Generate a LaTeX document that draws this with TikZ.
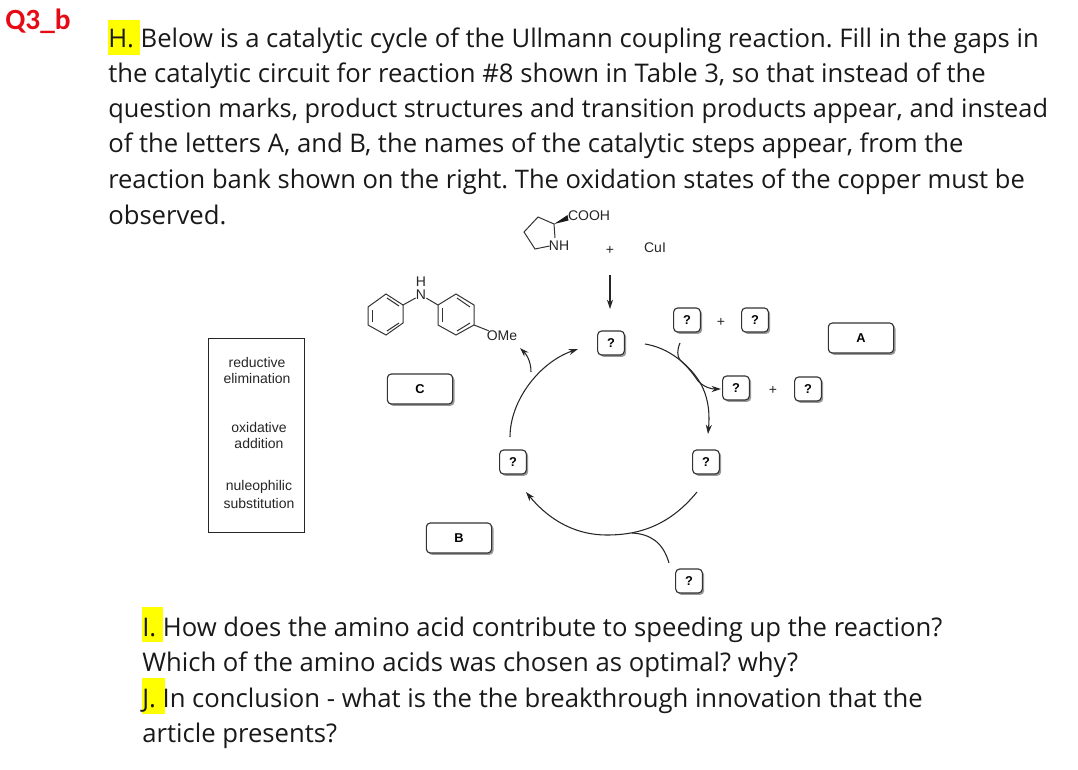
\documentclass[tikz,border=0pt]{standalone}
\usepackage{fontspec}
\setmainfont{Open Sans}
\newfontfamily\chemf{Liberation Sans}
\newfontfamily\headf{Carlito}
\usetikzlibrary{arrows.meta,shadows}
\definecolor{hl}{RGB}{255,255,0}
\definecolor{qred}{RGB}{230,10,20}
\tikzset{
  para/.style={anchor=base west,inner sep=0pt,font=\frenchspacing\fontsize{19.25}{24}\selectfont,text=black!90},
  qbox/.style={draw=black!80,line width=0.85pt,fill=white,rounded corners=3pt,minimum width=20pt,minimum height=18pt,inner sep=0pt,font=\chemf\bfseries\fontsize{9.6}{11}\selectfont,general shadow={fill=black!40,shadow xshift=1.4pt,shadow yshift=-1.4pt}},
  lbox/.style={qbox,minimum width=49pt,minimum height=22.5pt},
  chem/.style={inner sep=0pt,font=\chemf\fontsize{10.5}{12}\selectfont,text=black!85},
  bond/.style={draw=black!80,line width=0.75pt},
  arc/.style={draw=black!85,line width=0.8pt},
  arcarrow/.style={arc,-{Stealth[length=7pt,width=4.6pt]}},
}
\begin{document}
\begin{tikzpicture}[x=0.75pt,y=-0.75pt]
\useasboundingbox (0,0) rectangle (1078,770);
% highlights
\fill[hl] (108,20) rectangle (140,55);
\fill[hl] (142,607) rectangle (163,642);
\fill[hl] (142,678) rectangle (165,714);
% header and paragraphs
\node[anchor=base west,inner sep=0pt,text=qred,font=\headf\bfseries\fontsize{22}{26}\selectfont] (head) at (5,30) {Q3\_b};
\node[para] (l1) at (108,48) {H. Below is a catalytic cycle of the Ullmann coupling reaction. Fill in the gaps in};
\node[para] (l2) at (108,83) {the catalytic circuit for reaction \#8 shown in Table 3, so that instead of the};
\node[para,font=\frenchspacing\fontsize{19.0}{24}\selectfont] (l3) at (108,118) {question marks, product structures and transition products appear, and instead};
\node[para] (l4) at (108,153) {of the letters A, and B, the names of the catalytic steps appear, from the};
\node[para,font=\frenchspacing\fontsize{19.15}{24}\selectfont] (l5) at (108,189) {reaction bank shown on the right. The oxidation states of the copper must be};
\node[para] (l6) at (108,224) {observed.};
\node[para] (m1) at (142,636) {I. How does the amino acid contribute to speeding up the reaction?};
\node[para] (m2) at (142,671) {Which of the amino acids was chosen as optimal? why?};
\node[para] (m3) at (142,707) {J. In conclusion - what is the the breakthrough innovation that the};
\node[para] (m4) at (142,742) {article presents?};
% reaction bank
\node[draw=black!85,line width=0.85pt,minimum width=71.5pt,minimum height=145pt,inner sep=0pt] (bank) at (256.5,435.5) {};
\node[chem] (b1) at (257,362) {reductive};
\node[chem] (b2) at (257,378) {elimination};
\node[chem] (b3) at (259,427) {oxidative};
\node[chem] (b4) at (259,443) {addition};
\node[chem] (b5) at (259,487) {nuleophilic};
\node[chem] (b6) at (259,503) {substitution};
% boxes
\node[qbox] (q1) at (611,343) {?};
\node[qbox] (q2) at (687,320) {?};
\node[qbox] (q3) at (755,320) {?};
\node[qbox] (q4) at (736,388) {?};
\node[qbox] (q5) at (808,389) {?};
\node[qbox] (q6) at (706,462) {?};
\node[qbox] (q7) at (513,462) {?};
\node[qbox] (q8) at (689,581) {?};
\node[lbox] (A) at (861,338) {A};
\node[lbox] (B) at (459,538) {B};
\node[lbox] (C) at (420,389) {C};
\node[chem] (p1) at (610,250) {+};
\node[chem] (p2) at (721,322) {+};
\node[chem] (p3) at (773,390) {+};
\node[chem] (cui) at (655,248) {CuI};
% proline
\node[chem] (cooh) at (589,216) {COOH};
\node[chem] (nh) at (559,246) {NH};
\coordinate (r1) at (524,232);
\coordinate (r2) at (538,217);
\coordinate (r3) at (554,224);
\coordinate (r4) at (535,249);
\coordinate (wa) at (567.5,215);
\coordinate (wb) at (568.5,220.5);
\draw[bond] (nh.west) ++(1,0) -- (r4) -- (r1) -- (r2) -- (r3) -- (555,238);
\fill[black!90] (r3) -- (wa) -- (wb) -- cycle;
% diarylamine
\node[chem] (nn) at (421,295) {N};
\node[chem] (hh) at (421,282) {H};
\node[chem] (ome) at (502,336) {OMe};
\coordinate (a1) at (368,307);
\coordinate (a2) at (386,294);
\coordinate (a3) at (403,305);
\coordinate (a4) at (403,323);
\coordinate (a5) at (386,335);
\coordinate (a6) at (368,325);
\coordinate (c1) at (438,305);
\coordinate (c2) at (456,294);
\coordinate (c3) at (474,305);
\coordinate (c4) at (474,325);
\coordinate (c5) at (456,335);
\coordinate (c6) at (438,325);
\draw[bond] (a1) -- (a2) -- (a3) -- (a4) -- (a5) -- (a6) -- cycle;
\draw[bond] (c1) -- (c2) -- (c3) -- (c4) -- (c5) -- (c6) -- cycle;
\draw[bond] (372,310) -- (372,322);
\draw[bond] (387,298) -- (399,306);
\draw[bond] (387,331) -- (399,323);
\draw[bond] (442,308) -- (442,322);
\draw[bond] (457,298) -- (470,307);
\draw[bond] (457,331) -- (470,323);
\draw[bond] (a3) -- (nn);
\draw[bond] (nn) -- (c1);
\draw[bond] (c4) -- (ome);
% cycle
\coordinate (v0) at (610,275);
\coordinate (v1) at (610,309);
\draw[arcarrow] (v0) -- (v1);
\coordinate (k1) at (510,437);
\coordinate (k2) at (578,349);
\draw[arcarrow] (k1) .. controls (510,400) and (540,362) .. (k2);
\coordinate (o1) at (531,372);
\coordinate (o2) at (520,348);
\draw[arcarrow] (o1) .. controls (531,362) and (527,355) .. (o2);
\coordinate (k3) at (645,344);
\coordinate (km) at (680,360);
\coordinate (k4) at (708,434);
\draw[arcarrow] (k3) .. controls (662,347) and (672,354) .. (km) .. controls (695,373) and (712,390) .. (k4);
\coordinate (t1) at (680,343);
\coordinate (t2) at (698,381);
\coordinate (t3) at (721,389);
\draw[arcarrow] (t1) .. controls (677,350) and (677,356) .. (km) .. controls (688,367) and (694,375) .. (t2) .. controls (705,388) and (712,389) .. (t3);
\coordinate (k5) at (697,492);
\coordinate (k6) at (607,535);
\coordinate (k7) at (526,492);
\draw[arcarrow] (k5) .. controls (670,525) and (640,535) .. (k6) .. controls (570,535) and (545,515) .. (k7);
\coordinate (u1) at (669,563);
\coordinate (u2) at (632,533);
\draw[arc] (u1) .. controls (663,542) and (650,534) .. (u2);
\end{tikzpicture}
\end{document}
